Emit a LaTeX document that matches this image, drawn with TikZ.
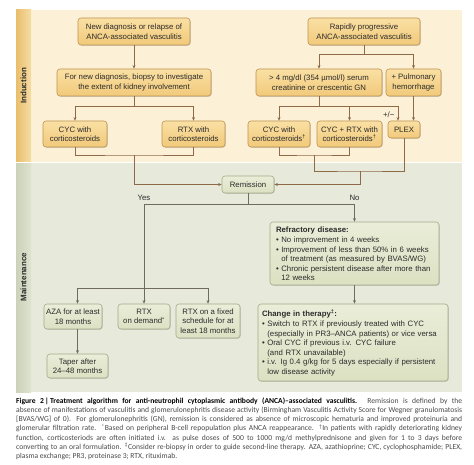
\documentclass[tikz,border=0pt]{standalone}
\usepackage{fontspec}
\setmainfont{Liberation Sans}
\newfontfamily\capfont{Carlito}
\usetikzlibrary{arrows.meta,shadows}

\definecolor{indbg}{HTML}{FCF0D6}
\definecolor{indstripL}{HTML}{E9BE6C}
\definecolor{indstripR}{HTML}{F6DDA5}
\definecolor{mntbg}{HTML}{E7E9DB}
\definecolor{mntstripL}{HTML}{CCD2BA}
\definecolor{mntstripR}{HTML}{DEE2CF}
\definecolor{indtop}{HTML}{FAE0A4}
\definecolor{indbot}{HTML}{F1C97A}
\definecolor{indborder}{HTML}{BF9252}
\definecolor{mnttop}{HTML}{EAEDD8}
\definecolor{mntbot}{HTML}{DCE1C3}
\definecolor{mntborder}{HTML}{A3AC8A}
\definecolor{indarrow}{HTML}{8E6A48}
\definecolor{mntarrow}{HTML}{6F6B5E}
\definecolor{boxtext}{HTML}{2B2B2B}
\definecolor{captext}{HTML}{4A4A4A}

\begin{document}
\begin{tikzpicture}[x=1pt, y=-1pt,
    >={Stealth[length=3.6pt,width=3pt]},
    font=\fontsize{7.8}{9.5}\selectfont,
    indbox/.style={draw=indborder, line width=0.6pt, top color=indtop, bottom color=indbot,
        rounded corners=3pt, align=center, inner sep=2pt, text=boxtext,
        drop shadow={shadow xshift=0.8pt, shadow yshift=-0.8pt, opacity=0.3}},
    mntbox/.style={indbox, draw=mntborder, top color=mnttop, bottom color=mntbot},
    indlink/.style={draw=indarrow, line width=0.6pt},
    mntlink/.style={draw=mntarrow, line width=0.6pt},
    bandlabel/.style={rotate=90, font=\fontsize{8}{9}\selectfont\bfseries, text=boxtext}]
    \useasboundingbox[fill=white] (0,0) rectangle (474,465);

    % Bands
    \fill[indbg] (16,10) rectangle (462,162);
    \fill[mntbg] (16,163) rectangle (462,392);
    \shade[left color=indstripL, right color=indstripR] (16,10) rectangle (31,162);
    \shade[left color=mntstripL, right color=mntstripR] (16,163) rectangle (31,392);
    \draw[white, line width=0.8pt] (16,162.5) -- (462,162.5);
    \node[bandlabel] (induction) at (23.5,86) {Induction};
    \node[bandlabel] (maintenance) at (23.5,277) {Maintenance};

    % Induction, left branch
    \node[indbox, minimum width=112pt, minimum height=27pt] (newdiag) at (134,31.5)
        {New diagnosis or relapse of\\ANCA-associated vasculitis};
    \node[indbox, minimum width=154pt, minimum height=27pt] (biopsy) at (134,82.5)
        {For new diagnosis, biopsy to investigate\\the extent of kidney involvement};
    \node[indbox, minimum width=64pt, minimum height=26pt] (cycL) at (75,134)
        {CYC with\\corticosteroids};
    \node[indbox, minimum width=63pt, minimum height=26pt] (rtxL) at (193.5,134)
        {RTX with\\corticosteroids};

    % Induction, right branch
    \node[indbox, minimum width=112pt, minimum height=27pt] (rapid) at (364,31.5)
        {Rapidly progressive\\ANCA-associated vasculitis};
    \node[indbox, minimum width=126pt, minimum height=27pt] (creat) at (319,82.5)
        {> 4 mg/dl (354 µmol/l) serum\\creatinine or crescentic GN};
    \node[indbox, minimum width=55pt, minimum height=27pt] (pulm) at (413.5,82.5)
        {+ Pulmonary\\hemorrhage};
    \node[indbox, minimum width=62pt, minimum height=26pt] (cycR) at (279,134)
        {CYC with\\corticosteroids\textsuperscript{†}};
    \node[indbox, minimum width=65pt, minimum height=26pt] (cycrtx) at (349.5,134)
        {CYC + RTX with\\corticosteroids\textsuperscript{†}};
    \node[indbox, minimum width=32pt, minimum height=17pt] (plex) at (404,129.5) {PLEX};

    % Remission
    \node[mntbox, minimum width=52pt, minimum height=17pt] (remission) at (248,184.5) {Remission};

    % Maintenance
    \node[mntbox, minimum width=58pt, minimum height=25pt] (aza) at (73,316.5)
        {AZA for at least\\18 months};
    \node[mntbox, minimum width=52pt, minimum height=25pt] (ondemand) at (144,316.5)
        {RTX\\on demand\textsuperscript{*}};
    \node[mntbox, minimum width=64pt, minimum height=34pt] (fixed) at (208,321)
        {RTX on a fixed\\schedule for at\\least 18 months};
    \node[mntbox, minimum width=61pt, minimum height=24pt] (taper) at (77.5,366)
        {Taper after\\24--48 months};
    \node[mntbox, text width=157pt, align=left, inner xsep=6pt, minimum height=63pt] (refract) at (354.5,253.5)
        {\textbf{Refractory disease:}\\[1pt]
        \textbullet\ No improvement in 4 weeks\\
        \textbullet\ Improvement of less than 50\% in 6 weeks\\
        \phantom{\textbullet\ }of treatment (as measured by BVAS/WG)\\
        \textbullet\ Chronic persistent disease after more than\\
        \phantom{\textbullet\ }12 weeks};
    \node[mntbox, text width=182pt, align=left, inner xsep=4pt, minimum height=77pt] (change) at (353,342.5)
        {\textbf{Change in therapy\textsuperscript{‡}:}\\[1pt]
        \textbullet\ Switch to RTX if previously treated with CYC\\
        \phantom{\textbullet\ }(especially in PR3–ANCA patients) or vice versa\\
        \textbullet\ Oral CYC if previous i.v. CYC failure\\
        \phantom{\textbullet\ }(and RTX unavailable)\\
        \textbullet\ i.v. Ig 0.4 g/kg for 5 days especially if persistent\\
        \phantom{\textbullet\ }low disease activity};

    % Induction connectors
    \coordinate (bsplit) at (134,106);
    \coordinate (ljoin) at (134,155);
    \draw[indlink,->] (newdiag) -- (biopsy);
    \draw[indlink] (biopsy) -- (bsplit);
    \draw[indlink,->] (bsplit) -| (cycL);
    \draw[indlink,->] (bsplit) -| (rtxL);
    \draw[indlink] (cycL.south) |- (ljoin) -| (rtxL.south);
    \draw[indlink,->] (ljoin) |- (remission);

    \coordinate (rsplit) at (364,54);
    \coordinate (csplit) at (319,106);
    \coordinate (rjoin) at (314,155);
    \coordinate (pjoin) at (360,171);
    \draw[indlink] (rapid) -- (rsplit);
    \draw[indlink,->] (rsplit) -| (creat);
    \draw[indlink,->] (rsplit) -| (pulm);
    \draw[indlink] (creat) -- (csplit);
    \draw[indlink,->] (csplit) -| (cycR);
    \draw[indlink,->] (csplit) -| (cycrtx);
    \draw[indlink,->] (csplit) -| ([xshift=-6pt]plex.north)
        node[pos=0.78, left=0pt, text=boxtext] (pmlabel) {+/−};
    \draw[indlink,->] (pulm) -- (pulm.south |- plex.north);
    \draw[indlink] (cycR.south) |- (rjoin) -| (cycrtx.south);
    \draw[indlink] (rjoin) |- (pjoin) -| (plex.south);
    \draw[indlink,->] (pjoin) |- (remission);

    % Maintenance connectors
    \coordinate (msplit) at (248,204);
    \coordinate (yescorner) at (144,204);
    \coordinate (nocorner) at (354.5,204);
    \coordinate (ysplit) at (144,288);
    \draw[mntlink] (remission) -- (msplit);
    \draw[mntlink] (msplit) -- (yescorner) node[above, text=boxtext] (yeslabel) {Yes};
    \draw[mntlink,->] (yescorner) -- (ondemand);
    \draw[mntlink,->] (ysplit) -| (aza.north -| taper);
    \draw[mntlink,->] (ysplit) -| (fixed);
    \draw[mntlink,->] (msplit) -- (nocorner) node[above, text=boxtext] (nolabel) {No} -- (refract);
    \draw[mntlink,->] (refract.south) -- (refract.south |- change.north);
    \draw[mntlink,->] (aza.south -| taper) -- (taper);

    % Caption
    \node[anchor=north west, inner sep=0pt, text width=446pt, align=justify, text=captext,
        font=\capfont\fontsize{7.6}{9.2}\selectfont] (caption) at (16,397.5)
        {\textcolor{black}{\textbf{Figure 2\,|\,Treatment algorithm for anti-neutrophil cytoplasmic antibody (ANCA)–associated vasculitis.}} Remission is defined by the\linebreak
        absence of manifestations of vasculitis and glomerulonephritis disease activity (Birmingham Vasculitis Activity Score for Wegner granulomatosis\linebreak{}[BVAS/WG] of 0). For glomerulonephritis (GN), remission is considered as absence of microscopic hematuria and improved proteinuria and\linebreak
        glomerular filtration rate. \textsuperscript{*}Based on peripheral B-cell repopulation plus ANCA reappearance. \textsuperscript{†}In patients with rapidly deteriorating kidney\linebreak
        function, corticosteriods are often initiated i.v. as pulse doses of 500 to 1000 mg/d methylprednisone and given for 1 to 3 days before\linebreak
        converting to an oral formulation. \textsuperscript{‡}Consider re-biopsy in order to guide second-line therapy. AZA, azathioprine; CYC, cyclophosphamide; PLEX,\linebreak
        plasma exchange; PR3, proteinase 3; RTX, rituximab.};
\end{tikzpicture}
\end{document}
